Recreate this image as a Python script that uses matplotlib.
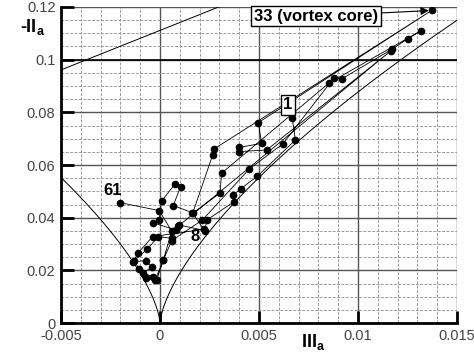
import numpy as np
import matplotlib
matplotlib.use("Agg")
import matplotlib.pyplot as plt
from matplotlib.ticker import MultipleLocator

plt.rcParams['font.family'] = ['Liberation Sans', 'DejaVu Sans']
plt.rcParams['mathtext.fontset'] = 'custom'
plt.rcParams['mathtext.bf'] = 'Liberation Sans:bold'
plt.rcParams['mathtext.rm'] = 'Liberation Sans'

# trajectory of the anisotropy invariants, points 1..61
iii_a = [0.00668, 0.00684, 0.00492, 0.00407, 0.00370, 0.00375, 0.00236, 0.00227,
         0.00098, 0.00059, -0.00008, -0.00064, -0.00130, -0.00105, -0.00071, -0.00017,
         0.00017, 0.00059, 0.00214, 0.00451, 0.00620, 0.00877, 0.00918, 0.01170,
         0.01251, 0.01316, 0.00855, 0.00311, 0.00303, 0.00165, 0.00266, 0.00273,
         0.01372, 0.00497, 0.00513, 0.00400, 0.00400, 0.00539, 0.01165, 0.00093,
         0.00081, -0.00037, -0.00004, 0.00008, 0.00076, 0.00104, 0.00067, 0.00163,
         0.00220, -0.00037, -0.00110, -0.00135, -0.00070, -0.00042, -0.00084, -0.00034,
         -0.00025, 0.00017, 0.00059, -0.00004, -0.00202]
ii_a = [0.0777, 0.0695, 0.0558, 0.0509, 0.0486, 0.0461, 0.0391, 0.0351,
        0.0372, 0.0322, 0.0328, 0.0281, 0.0237, 0.0204, 0.0170, 0.0163,
        0.0239, 0.0313, 0.0391, 0.0585, 0.0680, 0.0929, 0.0927, 0.1039,
        0.1079, 0.1109, 0.0912, 0.0569, 0.0493, 0.0417, 0.0638, 0.0661,
        0.1187, 0.0761, 0.0682, 0.0667, 0.0651, 0.0657, 0.1033, 0.0368,
        0.0353, 0.0381, 0.0391, 0.0463, 0.0528, 0.0518, 0.0446, 0.0419,
        0.0356, 0.0328, 0.0267, 0.0233, 0.0237, 0.0212, 0.0191, 0.0174,
        0.0163, 0.0239, 0.0349, 0.0427, 0.0457]

# Lumley triangle boundaries
xl = np.linspace(-0.005, 0, 200)
xr = np.linspace(0, 0.015, 400)
x2c = np.array([-0.005, 0.015])

fig = plt.figure(figsize=(4.74, 3.57), dpi=100)
ax = fig.add_axes([0.1287, 0.0952, 0.8354, 0.8852])

ax.set_xlim(-0.005, 0.015)
ax.set_ylim(0, 0.12)
ax.xaxis.set_minor_locator(MultipleLocator(0.001))
ax.yaxis.set_minor_locator(MultipleLocator(0.005))
ax.set_xticks([-0.005, 0, 0.005, 0.01, 0.015])
ax.set_xticklabels(['-0.005', '0', '0.005', '0.01', '0.015'])
ax.set_yticks([0, 0.02, 0.04, 0.06, 0.08, 0.1, 0.12])
ax.set_yticklabels(['0', '0.02', '0.04', '0.06', '0.08', '0.1', '0.12'])

ax.grid(which='minor', color='#9a9a9a', lw=0.7, ls=(0, (3, 1.5)))
ax.grid(which='major', color='#555555', lw=1.0)
ax.set_axisbelow(True)
ax.axhline(0.1, color='black', lw=1.2, zorder=1)

for s in ['top', 'right']:
    ax.spines[s].set_visible(False)
for s in ['left', 'bottom']:
    ax.spines[s].set_linewidth(2.0)
ax.tick_params(which='major', direction='in', length=9, width=2, labelsize=10.5,
               labelcolor='#444444', pad=4)
ax.tick_params(which='minor', length=0)

ax.plot(xl, 3 * (-xl / 2) ** (2 / 3), color='black', lw=0.7)
ax.plot(xr, 3 * (xr / 2) ** (2 / 3), color='black', lw=0.7)
ax.plot(x2c, 1 / 9 + 3 * x2c, color='black', lw=0.7)

ax.plot(iii_a, ii_a, color='black', lw=0.6, marker='o', ms=4.5,
        markerfacecolor='black', zorder=3)

bbox = dict(boxstyle='square,pad=0.15', fc='white', ec='black', lw=1.0)
ax.annotate('33 (vortex core)', xy=(iii_a[32], ii_a[32]), xytext=(0.00788, 0.1165),
            fontsize=12, fontweight='bold', ha='center', va='center', bbox=bbox,
            arrowprops=dict(arrowstyle='-|>', color='black', lw=0.8, shrinkA=0, shrinkB=2),
            zorder=5)
ax.annotate('1', xy=(iii_a[0], ii_a[0]), xytext=(0.00646, 0.0828),
            fontsize=12, fontweight='bold', ha='center', va='center', bbox=bbox,
            arrowprops=dict(arrowstyle='-', color='black', lw=0.6, shrinkA=0, shrinkB=2),
            zorder=5)
ax.text(-0.00237, 0.0505, '61', fontsize=12, fontweight='bold', ha='center', va='center')
ax.text(0.00177, 0.0327, '8', fontsize=12, fontweight='bold', ha='center', va='center')

fig.text(33 / 474, 1 - 27 / 357, r'-II$_\mathbf{a}$', fontsize=13, fontweight='bold',
         ha='center', va='center')
fig.text(313 / 474, 1 - 342 / 357, r'III$_\mathbf{a}$', fontsize=13, fontweight='bold',
         ha='center', va='center')

fig.savefig('out.png', dpi=100)
